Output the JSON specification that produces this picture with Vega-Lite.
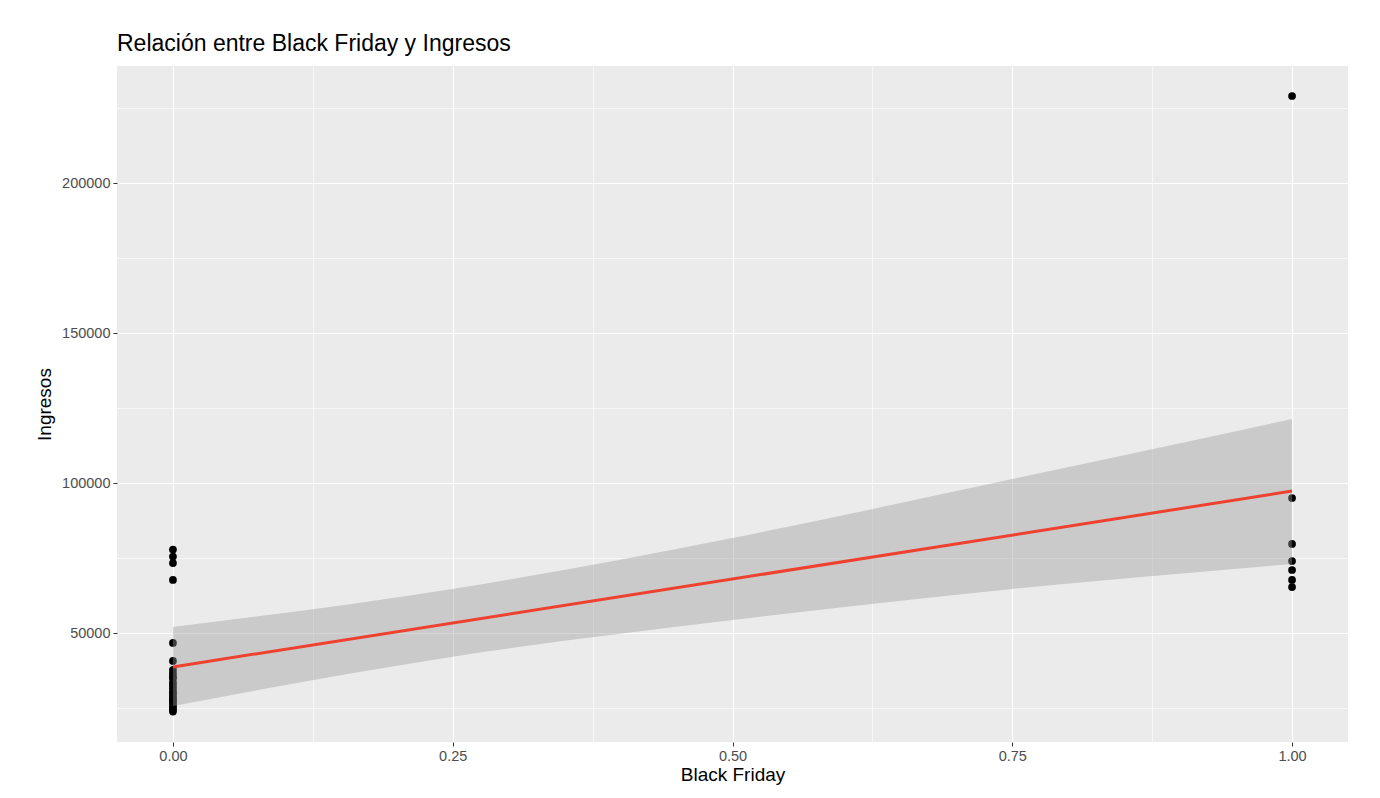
{
  "$schema": "https://vega.github.io/schema/vega-lite/v6.json",
  "autosize": {"type": "none"},
  "padding": {"left": 117, "top": 66, "right": 32, "bottom": 56},
  "width": 1231,
  "height": 676,
  "background": "white",
  "title": {
    "text": "Relación entre Black Friday y Ingresos",
    "anchor": "start",
    "frame": "group",
    "font": "Liberation Sans",
    "fontSize": 23,
    "fontWeight": "normal",
    "color": "black",
    "offset": 10
  },
  "config": {
    "view": {"fill": "#EBEBEB", "stroke": null},
    "axis": {
      "domain": false,
      "gridColor": "white",
      "labelFont": "Liberation Sans",
      "labelFontSize": 14.5,
      "labelColor": "#4D4D4D",
      "titleFont": "Liberation Sans",
      "titleFontSize": 19,
      "titleFontWeight": "normal",
      "titleColor": "black",
      "tickColor": "#333333",
      "tickSize": 4,
      "labelPadding": 3
    }
  },
  "datasets": {
    "points": [
      {"black_friday": 0, "ingresos": 77800},
      {"black_friday": 0, "ingresos": 75500},
      {"black_friday": 0, "ingresos": 73300},
      {"black_friday": 0, "ingresos": 67700},
      {"black_friday": 0, "ingresos": 46700},
      {"black_friday": 0, "ingresos": 40700},
      {"black_friday": 0, "ingresos": 37700},
      {"black_friday": 0, "ingresos": 36500},
      {"black_friday": 0, "ingresos": 35500},
      {"black_friday": 0, "ingresos": 34800},
      {"black_friday": 0, "ingresos": 33500},
      {"black_friday": 0, "ingresos": 32500},
      {"black_friday": 0, "ingresos": 31500},
      {"black_friday": 0, "ingresos": 30500},
      {"black_friday": 0, "ingresos": 29800},
      {"black_friday": 0, "ingresos": 29000},
      {"black_friday": 0, "ingresos": 28200},
      {"black_friday": 0, "ingresos": 27500},
      {"black_friday": 0, "ingresos": 26800},
      {"black_friday": 0, "ingresos": 26000},
      {"black_friday": 0, "ingresos": 25200},
      {"black_friday": 0, "ingresos": 24500},
      {"black_friday": 0, "ingresos": 23800},
      {"black_friday": 1, "ingresos": 229000},
      {"black_friday": 1, "ingresos": 95000},
      {"black_friday": 1, "ingresos": 79700},
      {"black_friday": 1, "ingresos": 74000},
      {"black_friday": 1, "ingresos": 71000},
      {"black_friday": 1, "ingresos": 67700},
      {"black_friday": 1, "ingresos": 65300}
    ],
    "band": [
      {"black_friday": 0, "lower": 25700, "upper": 52000},
      {"black_friday": 0.25, "lower": 42100, "upper": 64700},
      {"black_friday": 0.5, "lower": 54300, "upper": 81700},
      {"black_friday": 0.75, "lower": 64700, "upper": 101300},
      {"black_friday": 1, "lower": 73000, "upper": 121300}
    ],
    "fit": [
      {"black_friday": 0, "fit": 38700},
      {"black_friday": 1, "fit": 97300}
    ]
  },
  "encoding": {
    "x": {
      "field": "black_friday",
      "type": "quantitative",
      "title": "Black Friday",
      "scale": {"domain": [-0.05, 1.05], "nice": false, "zero": false},
      "axis": {
        "values": [0, 0.125, 0.25, 0.375, 0.5, 0.625, 0.75, 0.875, 1],
        "labelExpr": "(datum.value * 4) % 1 === 0 ? format(datum.value, '.2f') : ''",
        "gridWidth": {"condition": {"test": "(datum.value * 4) % 1 === 0", "value": 1.2}, "value": 0.6},
        "tickOpacity": {"condition": {"test": "(datum.value * 4) % 1 === 0", "value": 1}, "value": 0},
        "titlePadding": 3
      }
    },
    "y": {
      "type": "quantitative",
      "scale": {"domain": [13667, 239000], "nice": false, "zero": false},
      "axis": {
        "title": "Ingresos",
        "values": [25000, 50000, 75000, 100000, 125000, 150000, 175000, 200000, 225000],
        "labelExpr": "datum.value % 50000 === 0 ? format(datum.value, 'd') : ''",
        "gridWidth": {"condition": {"test": "datum.value % 50000 === 0", "value": 1.2}, "value": 0.6},
        "tickOpacity": {"condition": {"test": "datum.value % 50000 === 0", "value": 1}, "value": 0},
        "titlePadding": 7
      }
    }
  },
  "layer": [
    {
      "data": {"name": "points"},
      "mark": {"type": "point", "filled": true, "color": "black", "opacity": 1, "size": 60},
      "encoding": {"y": {"field": "ingresos", "type": "quantitative"}}
    },
    {
      "data": {"name": "band"},
      "mark": {"type": "area", "color": "#999999", "opacity": 0.4, "interpolate": "monotone"},
      "encoding": {
        "y": {"field": "lower", "type": "quantitative"},
        "y2": {"field": "upper"}
      }
    },
    {
      "data": {"name": "fit"},
      "mark": {"type": "line", "color": "#EE4130", "strokeWidth": 3},
      "encoding": {"y": {"field": "fit", "type": "quantitative"}}
    }
  ]
}
